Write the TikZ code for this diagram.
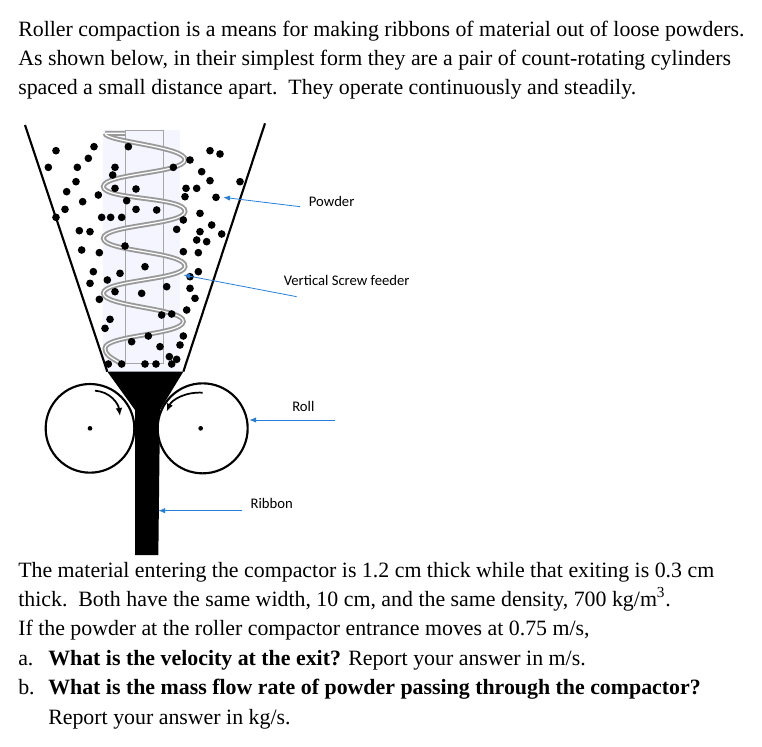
\documentclass[tikz,border=0pt]{standalone}
\usepackage{fontspec}
\setmainfont{Liberation Serif}
\newfontfamily\lblfont{Carlito}
\tikzset{
  txt/.style={anchor=base west,inner sep=0pt,font=\fontsize{16.4}{19}\selectfont},
  lbl/.style={inner sep=1pt,font=\lblfont\fontsize{11}{13}\selectfont},
  ptr/.style={draw=blue!50!cyan!70!gray,line width=0.6pt,-{Latex[length=5pt,width=4pt]}},
  dot/.style={fill=black},
}
\usetikzlibrary{arrows.meta}
\begin{document}
\begin{tikzpicture}[x=0.75pt,y=-0.75pt]
\useasboundingbox (0,0) rectangle (762,746);
\node[txt] (t1) at (18,36) {Roller compaction is a means for making ribbons of material out of loose powders.};
\node[txt] (t2) at (18,65) {As shown below, in their simplest form they are a pair of count-rotating cylinders};
\node[txt] (t3) at (18,94) {spaced a small distance apart.\ \ They operate continuously and steadily.};
\node[txt] (b1) at (18,577) {The material entering the compactor is 1.2 cm thick while that exiting is 0.3 cm};
\node[txt] (b2) at (18,606) {thick.\ \ Both have the same width, 10 cm, and the same density, 700 kg/m\textsuperscript{3}.};
\node[txt] (b3) at (18,635) {If the powder at the roller compactor entrance moves at 0.75 m/s,};
\node[txt] (b4a) at (18,665) {a.};
\node[txt] (b4) at (48,665) {\textbf{What is the velocity at the exit?} Report your answer in m/s.};
\node[txt] (b5a) at (18,694) {b.};
\node[txt] (b5) at (48,694) {\textbf{What is the mass flow rate of powder passing through the compactor?}};
\node[txt] (b6) at (48,724) {Report your answer in kg/s.};
\begin{scope}[shift={(20,110)},x=0.25pt,y=-0.25pt]
  % shaft
  \fill[blue!4] (250,60) rectangle (480,785);
  \draw[gray!70,line width=0.4pt] (315,60) rectangle (430,760);
  % helix
  \draw[gray!80,line width=1.4pt,double=white,double distance=0.9pt]
    (255,70) -- (315,70)
    (255,70) .. controls (255,95) and (500,110) .. (495,150)
    .. controls (490,190) and (250,190) .. (250,230)
    .. controls (250,270) and (500,260) .. (495,305)
    .. controls (490,345) and (250,345) .. (250,385)
    .. controls (250,425) and (500,425) .. (495,470)
    .. controls (490,510) and (250,510) .. (250,550)
    .. controls (250,590) and (495,595) .. (490,635)
    .. controls (485,675) and (255,675) .. (255,715)
    .. controls (255,740) and (290,750) .. (300,760);
  % dots
  \foreach \p in {(108,122),(222,110),(205,145),(325,110),(570,122),(600,132),(85,172),(172,172),(285,172),(510,150),(460,172),(545,185),(278,195),(168,215),(570,212),(660,215),(140,245),(235,255),(285,235),(348,237),(498,235),(530,235),(495,260),(588,262),(188,275),(320,272),(135,298),(348,298),(410,300),(540,310),(108,322),(245,322),(272,322),(305,322),(490,330),(575,345),(178,362),(210,365),(470,358),(540,365),(605,372),(530,390),(560,395),(315,408),(185,420),(238,428),(490,425),(535,428),(375,470),(220,485),(300,490),(535,485),(210,520),(262,510),(510,500),(285,545),(365,550),(440,530),(510,535),(238,568),(525,565),(270,628),(255,655),(425,615),(455,612),(500,600),(490,678),(480,705),(335,695),(385,678),(420,710),(448,740),(265,762),(305,762),(375,762),(408,762),(455,762),(470,748)}
    \fill[dot] \p circle (11.5);
  % funnel walls
  \coordinate (fl1) at (15,45); \coordinate (fl2) at (262,785);
  \coordinate (fr1) at (735,40); \coordinate (fr2) at (490,785);
  \draw[line width=1.6pt] (fl1) -- (fl2) (fr1) -- (fr2);
  % compacted material
  \fill[black] (262,785) -- (490,785) -- (420,900) -- (415,1335) -- (345,1335) -- (345,900) -- cycle;
  % rolls
  \draw[line width=1.6pt,fill=white] (210,955) circle (133);
  \draw[line width=1.6pt,fill=white] (548,955) circle (135);
  \fill (210,955) circle (7); \fill (542,955) circle (7);
  \draw[line width=1.3pt,-{Latex[length=6pt,width=5pt]}] (225,842) .. controls (270,845) and (295,880) .. (300,918);
  \draw[line width=1.3pt,-{Latex[length=6pt,width=5pt]}] (548,848) .. controls (495,845) and (455,870) .. (440,905);
  % labels
  \node[lbl] (powder) at (935,275) {Powder};
  \coordinate (pw) at (840,290); \coordinate (pwt) at (610,262);
  \draw[ptr] (pw) -- (pwt);
  \node[lbl] (screw) at (980,510) {Vertical Screw feeder};
  \coordinate (sc) at (830,560); \coordinate (sct) at (490,495);
  \draw[ptr] (sc) -- (sct);
  \node[lbl] (roll) at (850,890) {Roll};
  \coordinate (rl) at (945,930); \coordinate (rlt) at (688,930);
  \draw[ptr] (rl) -- (rlt);
  \node[lbl] (ribbon) at (755,1180) {Ribbon};
  \coordinate (rb) at (665,1202); \coordinate (rbt) at (415,1202);
  \draw[ptr] (rb) -- (rbt);
\end{scope}
\end{tikzpicture}
\end{document}
